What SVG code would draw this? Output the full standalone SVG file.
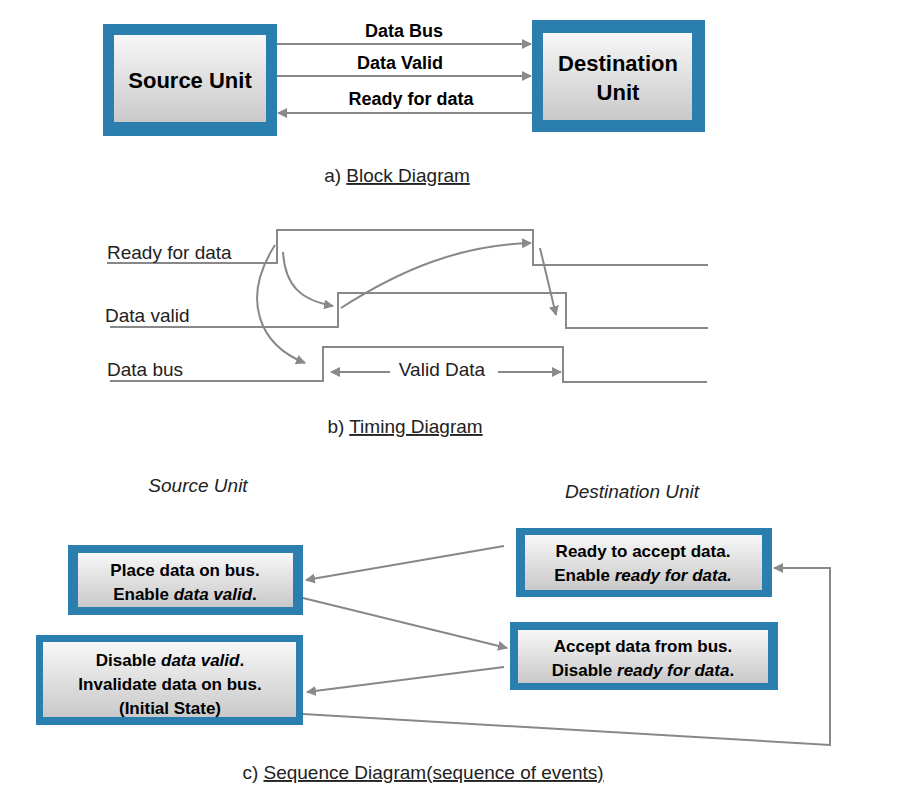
<svg xmlns="http://www.w3.org/2000/svg" width="902" height="788" viewBox="0 0 902 788">
<defs>
<linearGradient id="g" x1="0" y1="0" x2="0" y2="1"><stop offset="0" stop-color="#f7f7f7"/><stop offset="1" stop-color="#c9c9c9"/></linearGradient>
<marker id="a" viewBox="0 0 10 10" refX="9" refY="5" markerWidth="10" markerHeight="10" markerUnits="userSpaceOnUse" orient="auto"><path d="M0,0 L10,5 L0,10 z" fill="#8a8a8a"/></marker>
</defs>
<style>
.o{fill:#2a7fae}
.i{fill:url(#g)}
.b{font-family:"Liberation Sans",Arial,sans-serif;font-weight:bold;fill:#000;text-anchor:middle}
.t{font-family:"Liberation Sans",Arial,sans-serif;fill:#222;font-size:19px}
.c{stroke:#888;stroke-width:2;fill:none}
.w{stroke:#888;stroke-width:2;fill:none}
</style>
<rect width="902" height="788" fill="#fff"/>
<g id="source"><rect class="o" x="103" y="24" width="174" height="112"/><rect class="i" x="114" y="35" width="152" height="87"/><text class="b" x="190" y="88" font-size="22">Source Unit</text></g>
<g id="dest"><rect class="o" x="532" y="20" width="173" height="112"/><rect class="i" x="543" y="33" width="149" height="87"/><text class="b" x="618" y="71" font-size="22">Destination</text><text class="b" x="618" y="100" font-size="22">Unit</text></g>
<g id="busLabels"><text class="b" x="404" y="37" font-size="18">Data Bus</text><text class="b" x="400" y="69" font-size="18">Data Valid</text><text class="b" x="411" y="105" font-size="18">Ready for data</text></g>
<text class="t" x="397" y="182" text-anchor="middle">a) <tspan text-decoration="underline">Block Diagram</tspan></text>
<g id="wave">
<path class="w" d="M107,263 H277 V230 H533 V265 H708"/>
<path class="w" d="M110,327 H338 V293 H566 V328 H708"/>
<path class="w" d="M110,381 H323 V347 H563 V382 H707"/>
<text class="t" x="107" y="259">Ready for data</text>
<text class="t" x="105" y="322">Data valid</text>
<text class="t" x="107" y="376">Data bus</text>
<text class="t" x="442" y="376" text-anchor="middle">Valid Data</text>
</g>
<g id="connectors">
<line class="c" x1="277" y1="44" x2="531" y2="44" marker-end="url(#a)"/>
<line class="c" x1="277" y1="76" x2="531" y2="76" marker-end="url(#a)"/>
<line class="c" x1="532" y1="113" x2="278" y2="113" marker-end="url(#a)"/>
<line class="c" x1="390" y1="372" x2="331" y2="372" marker-end="url(#a)"/>
<line class="c" x1="498" y1="372" x2="561" y2="372" marker-end="url(#a)"/>
<path class="c" d="M275,245 C240,300 260,345 305,363" marker-end="url(#a)"/>
<path class="c" d="M283,252 C285,285 300,300 333,306" marker-end="url(#a)"/>
<path class="c" d="M341,308 C400,270 460,245 531,243" marker-end="url(#a)"/>
<path class="c" d="M540,248 L556,315" marker-end="url(#a)"/>
<line class="c" x1="504" y1="546" x2="306" y2="580" marker-end="url(#a)"/>
<line class="c" x1="303" y1="598" x2="507" y2="648" marker-end="url(#a)"/>
<line class="c" x1="504" y1="667" x2="307" y2="692" marker-end="url(#a)"/>
<path class="c" d="M303,714 L830,745 V568 H774" marker-end="url(#a)"/>
</g>
<text class="t" x="405" y="433" text-anchor="middle">b) <tspan text-decoration="underline">Timing Diagram</tspan></text>
<text class="t" x="198" y="492" text-anchor="middle" font-style="italic">Source Unit</text>
<text class="t" x="632" y="498" text-anchor="middle" font-style="italic">Destination Unit</text>
<g id="place"><rect class="o" x="68" y="545" width="235" height="70"/><rect class="i" x="78" y="553" width="215" height="54"/><text class="b" x="185" y="576" font-size="17">Place data on bus.</text><text class="b" x="185" y="600" font-size="17">Enable <tspan font-style="italic">data valid</tspan>.</text></g>
<g id="ready"><rect class="o" x="516" y="528" width="256" height="69"/><rect class="i" x="525" y="535" width="237" height="55"/><text class="b" x="643" y="557" font-size="17">Ready to accept data.</text><text class="b" x="643" y="581" font-size="17">Enable <tspan font-style="italic">ready for data.</tspan></text></g>
<g id="accept"><rect class="o" x="510" y="622" width="268" height="68"/><rect class="i" x="518" y="630" width="250" height="53"/><text class="b" x="643" y="652" font-size="17">Accept data from bus.</text><text class="b" x="643" y="676" font-size="17">Disable <tspan font-style="italic">ready for data</tspan>.</text></g>
<g id="disable"><rect class="o" x="36" y="635" width="267" height="90"/><rect class="i" x="43" y="642" width="253" height="75"/><text class="b" x="170" y="666" font-size="17">Disable <tspan font-style="italic">data valid</tspan>.</text><text class="b" x="170" y="690" font-size="17">Invalidate data on bus.</text><text class="b" x="170" y="714" font-size="17">(Initial State)</text></g>
<text class="t" x="423" y="779" text-anchor="middle">c) <tspan text-decoration="underline">Sequence Diagram(sequence of events)</tspan></text>
</svg>
